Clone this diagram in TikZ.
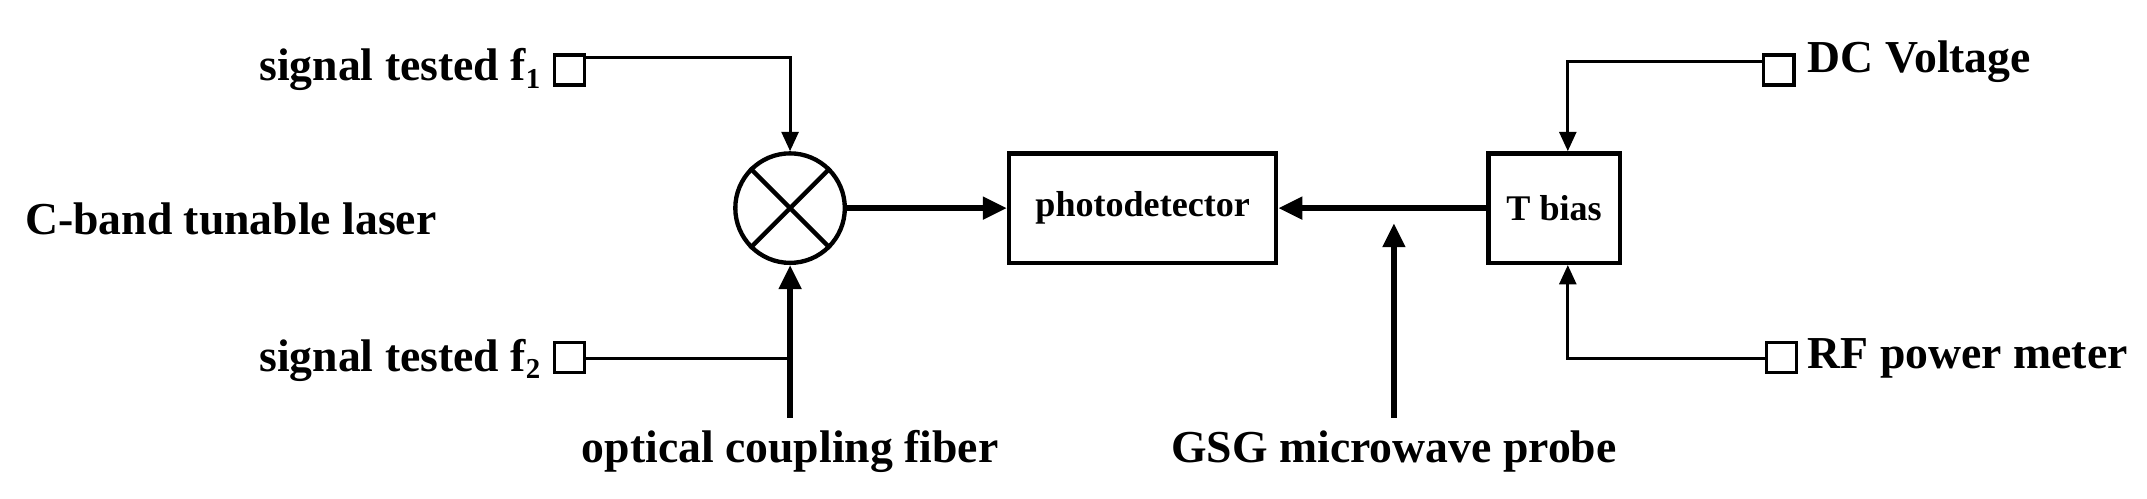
\documentclass[tikz,border=0pt]{standalone}
\usepackage{fontspec}
\setmainfont{Liberation Serif}
\usetikzlibrary{arrows.meta}
\newcommand{\lowsub}[1]{\raisebox{-0.35ex}{\fontsize{12}{12}\selectfont #1}}
\begin{document}
\begin{tikzpicture}[x=0.02cm,y=-0.02cm,
 lbl/.style={font=\fontsize{19}{21}\selectfont\bfseries,inner sep=0pt},
 box/.style={draw,line width=1.8pt,inner sep=0pt,font=\fontsize{15}{17}\selectfont\bfseries},
 port/.style={draw,line width=1.5pt,minimum size=0.44cm,inner sep=0pt},
 thin/.style={line width=1.2pt,-{Triangle[length=8pt,width=7pt]}},
 thick/.style={line width=2.4pt,-{Triangle[length=10pt,width=9pt]}}]
\useasboundingbox (0,0) rectangle (1568,364);
\node[port] (p1) at (416,51) {};
\node[port] (p2) at (416,261) {};
\node[port] (p3) at (1299,51) {};
\node[port] (p4) at (1301,261) {};
\node[lbl,anchor=east] (t1) at (395,51) {signal tested f\lowsub{1}};
\node[lbl,anchor=east] (t2) at (395,263) {signal tested f\lowsub{2}};
\node[lbl,anchor=west] (t3) at (1320,45) {DC Voltage};
\node[lbl,anchor=west] (t4) at (1320,262) {RF power meter};
\node[lbl,anchor=west] (cb) at (18,160) {C-band tunable laser};
\node[lbl] (of) at (577,330) {optical coupling fiber};
\node[lbl] (gsg) at (1018,330) {GSG microwave probe};
\node[draw,circle,line width=1.8pt,minimum size=1.6cm,inner sep=0pt] (mx) at (577,152) {};
\draw[line width=1.8pt] (mx.45) -- (mx.225) (mx.135) -- (mx.315);
\node[box,minimum width=3.9cm,minimum height=1.6cm] (pd) at (834.5,152) {photodetector};
\node[box,minimum width=1.92cm,minimum height=1.6cm] (tb) at (1135,152) {T bias};
\coordinate (c1) at (577,42);
\coordinate (c2) at (577,262);
\coordinate (c3) at (577,305);
\coordinate (c4) at (1145,45);
\coordinate (c5) at (1145,262);
\coordinate (g0) at (1018,305);
\coordinate (g1) at (1018,163);
\draw[thin] (p1.east |- c1) -- (c1) -- (mx.north);
\draw[line width=1.2pt] (p2.east |- c2) -- (c2);
\draw[thick] (c3) -- (mx.south);
\draw[thick] (mx.east) -- (pd.west);
\draw[thick] (tb.west) -- (pd.east);
\draw[thick] (g0) -- (g1);
\draw[thin] (p3.west |- c4) -- (c4) -- (c4 |- tb.north);
\draw[thin] (p4.west |- c5) -- (c5) -- (c5 |- tb.south);
\end{tikzpicture}
\end{document}
